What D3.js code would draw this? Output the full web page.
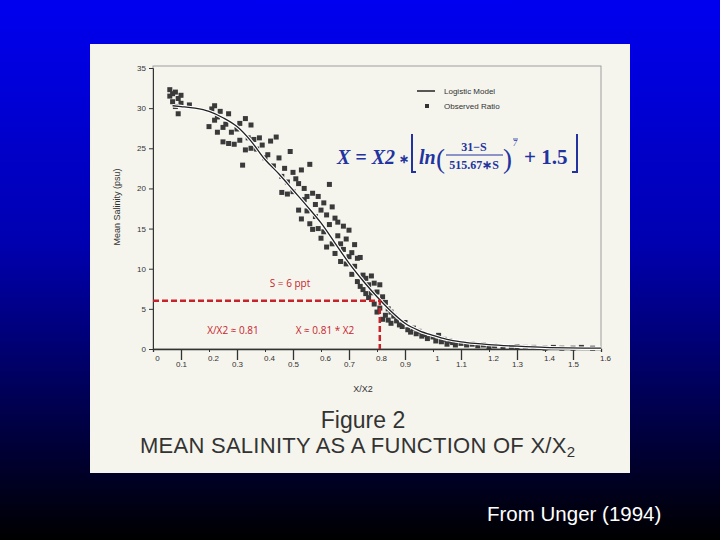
<!DOCTYPE html>
<html>
<head>
<meta charset="utf-8">
<script src="https://cdn.jsdelivr.net/npm/d3@7"></script>
<style>
  body { margin: 0; }
  svg { display: block; }
</style>
</head>
<body>
<div id="chart"></div>
<script>
// logistic model curve [x/x2, salinity]
var modelCurve = [[0.07,30.3],[0.1,30.2],[0.15,30.0],[0.2,29.6],[0.25,28.8],[0.3,27.7],[0.35,25.9],[0.4,23.6],
  [0.45,21.8],[0.5,19.8],[0.55,17.8],[0.6,15.7],[0.65,13.2],[0.7,10.7],[0.75,8.5],[0.8,6.5],[0.85,4.7],
  [0.9,3.2],[0.95,2.3],[1.0,1.7],[1.05,1.2],[1.1,0.9],[1.15,0.7],[1.2,0.55],[1.3,0.35],[1.4,0.2],[1.6,0.1]];

// observed ratio points [x/x2, salinity]
var observed = [
  [0.06,32.3],[0.06,31.5],[0.07,30.8],[0.07,31.8],[0.08,30.2],[0.08,32.0],[0.09,31.2],[0.09,29.3],[0.1,31.6],[0.1,30.6],[0.13,30.4],
  [0.2,27.7],[0.21,29.9],[0.22,30.3],[0.22,28.5],[0.23,28.9],[0.23,27.0],[0.24,29.6],[0.25,27.6],[0.25,25.8],[0.26,28.0],
  [0.27,29.3],[0.27,25.6],[0.28,27.0],[0.29,25.5],[0.3,27.4],[0.31,28.1],[0.31,26.0],[0.32,22.9],[0.33,28.7],[0.33,24.8],
  [0.34,26.3],[0.35,25.0],[0.35,27.9],[0.36,26.1],[0.37,24.9],[0.38,26.3],[0.39,25.4],[0.4,23.8],[0.41,24.2],[0.42,25.9],
  [0.43,22.8],[0.44,26.4],[0.45,23.8],[0.46,21.5],[0.46,19.5],[0.47,22.5],[0.48,20.8],[0.48,19.3],[0.49,24.6],[0.5,22.0],
  [0.5,19.6],[0.51,21.2],[0.52,20.6],[0.52,17.3],[0.53,22.3],[0.53,16.2],[0.54,20.0],[0.54,18.6],[0.55,19.0],[0.55,17.2],
  [0.56,23.0],[0.56,15.6],[0.57,19.4],[0.57,14.9],[0.58,18.0],[0.58,16.5],[0.59,19.0],[0.59,15.0],[0.6,17.3],[0.6,13.8],
  [0.61,18.2],[0.61,14.6],[0.62,16.7],[0.62,12.7],[0.63,20.5],[0.63,15.5],[0.64,17.7],[0.64,13.1],[0.65,16.3],[0.65,11.9],
  [0.66,15.8],[0.66,14.1],[0.67,13.1],[0.67,10.9],[0.68,15.3],[0.68,12.4],[0.69,13.7],[0.69,10.6],[0.7,14.8],[0.7,11.5],
  [0.71,12.0],[0.71,9.3],[0.72,10.3],[0.72,13.0],[0.73,11.3],[0.73,8.4],[0.74,11.4],[0.74,7.8],[0.75,9.2],[0.75,7.4],
  [0.76,8.8],[0.76,6.9],[0.77,8.0],[0.77,6.4],[0.78,9.1],[0.78,7.0],[0.79,8.2],[0.79,5.6],[0.8,7.1],[0.8,4.6],
  [0.81,8.0],[0.81,5.1],[0.82,6.5],[0.82,3.7],[0.83,5.8],[0.83,4.2],[0.84,5.0],[0.84,3.6],[0.85,4.6],[0.85,3.2],
  [0.86,4.1],[0.87,3.5],[0.88,3.0],[0.89,2.8],[0.9,3.3],[0.91,2.4],[0.92,2.1],[0.93,2.6],[0.94,1.9],[0.95,2.2],
  [0.96,1.6],[0.97,1.8],[0.98,1.3],[1.0,1.5],[1.01,1.0],[1.02,1.7],[1.03,0.9],[1.04,1.2],[1.05,0.6],[1.06,1.0],
  [1.07,0.8],[1.08,0.5],[1.1,0.7],[1.12,0.5],[1.14,0.6],[1.16,0.4],[1.18,0.5],[1.2,0.3],[1.22,0.4],[1.25,0.3],
  [1.28,0.2],[1.3,0.3],[1.33,0.2],[1.36,0.2],[1.4,0.1],[1.43,0.2],[1.46,0.1],[1.5,0.1],[1.53,0.2],[1.57,0.1]
];

var yTicks = [0, 5, 10, 15, 20, 25, 30, 35];
var xTicksTop = [0, 0.2, 0.4, 0.6, 0.8, 1, 1.2, 1.4, 1.6];
var xTicksLow = [0.1, 0.3, 0.5, 0.7, 0.9, 1.1, 1.3, 1.5];
var cutSalinity = 6, cutRatio = 0.81;

var svg = d3.select("#chart").append("svg").attr("width", 720).attr("height", 540);

// slide background
var grad = svg.append("defs").append("linearGradient")
  .attr("id", "bg").attr("x1", 0).attr("y1", 0).attr("x2", 0).attr("y2", 1);
grad.append("stop").attr("offset", "0%").attr("stop-color", "#0000f0");
grad.append("stop").attr("offset", "45%").attr("stop-color", "#0000b0");
grad.append("stop").attr("offset", "75%").attr("stop-color", "#000050");
grad.append("stop").attr("offset", "100%").attr("stop-color", "#000000");
svg.append("rect").attr("width", 720).attr("height", 540).attr("fill", "url(#bg)");

// paper panel
svg.append("rect").attr("x", 90).attr("y", 44).attr("width", 540).attr("height", 429).attr("fill", "#f5f5ee");

var x = d3.scaleLinear().domain([0, 1.6]).range([153, 601]);
var y = d3.scaleLinear().domain([0, 35]).range([349, 68]);

// frame
svg.append("rect").attr("x", 153).attr("y", 66).attr("width", 448).attr("height", 283)
  .attr("fill", "none").attr("stroke", "#888").attr("stroke-width", 0.8);

var ink = "#333";
var font = "Liberation Sans, Arial, sans-serif";

// y axis
svg.append("g").attr("transform", "translate(153,0)")
  .call(d3.axisLeft(y).tickValues(yTicks).tickSize(4).tickFormat(d3.format("d")))
  .call(function (g) {
    g.select(".domain").attr("stroke", ink);
    g.selectAll("line").attr("stroke", ink);
    g.selectAll("text").attr("fill", ink).style("font-family", font).style("font-size", "8px");
  });

// x axis, two label rows
svg.append("g").attr("transform", "translate(0,349)")
  .call(d3.axisBottom(x).tickValues(xTicksTop).tickSize(3).tickFormat(d3.format("")))
  .call(function (g) {
    g.select(".domain").attr("stroke", ink).attr("stroke-width", 1.3);
    g.selectAll("line").attr("stroke", ink);
    g.selectAll("text").attr("fill", ink).attr("dx", 4).style("font-family", font).style("font-size", "8px");
  });
svg.append("g").attr("transform", "translate(0,349)")
  .call(d3.axisBottom(x).tickValues(xTicksLow).tickSize(11).tickFormat(d3.format("")))
  .call(function (g) {
    g.select(".domain").remove();
    g.selectAll("line").attr("stroke", ink).attr("stroke-width", 1.3);
    g.selectAll("text").attr("fill", ink).attr("dy", "0.5em").style("font-family", font).style("font-size", "8px");
  });

svg.append("text").attr("x", 363).attr("y", 392).attr("text-anchor", "middle")
  .attr("fill", ink).style("font-family", font).style("font-size", "9px").text("X/X2");
svg.append("text").attr("transform", "translate(120,207) rotate(-90)").attr("text-anchor", "middle")
  .attr("fill", ink).style("font-family", font).style("font-size", "9px").text("Mean Salinity (psu)");

// observed points
svg.append("g").selectAll("rect").data(observed).enter().append("rect")
  .attr("x", function (d) { return x(d[0]) - 2.5; })
  .attr("y", function (d) { return y(d[1]) - 2.5; })
  .attr("width", 5).attr("height", 5).attr("fill", "#3a3a3a");

// model line (white halo + dark line)
var line = d3.line().curve(d3.curveMonotoneX).x(function (d) { return x(d[0]); }).y(function (d) { return y(d[1]); });
svg.append("path").datum(modelCurve).attr("d", line).attr("fill", "none").attr("stroke", "#fff").attr("stroke-width", 3.5);
svg.append("path").datum(modelCurve).attr("d", line).attr("fill", "none").attr("stroke", "#222").attr("stroke-width", 1.3);

// legend
svg.append("line").attr("x1", 417).attr("x2", 435).attr("y1", 91).attr("y2", 91).attr("stroke", "#222").attr("stroke-width", 1.5);
svg.append("rect").attr("x", 425).attr("y", 104).attr("width", 4).attr("height", 4).attr("fill", "#333");
svg.append("text").attr("x", 444).attr("y", 94).attr("fill", ink).style("font-family", font).style("font-size", "8px").text("Logistic Model");
svg.append("text").attr("x", 444).attr("y", 109).attr("fill", ink).style("font-family", font).style("font-size", "8px").text("Observed Ratio");

// red annotations
var red = "#c8232b";
svg.append("path")
  .attr("d", "M" + x(0) + "," + y(cutSalinity) + "H" + x(cutRatio) + "V" + y(0))
  .attr("fill", "none").attr("stroke", red).attr("stroke-width", 2.5).attr("stroke-dasharray", "6,3");
var rf = "Open Sans, sans-serif";
svg.append("text").attr("x", 290).attr("y", 287).attr("text-anchor", "middle").attr("fill", red)
  .style("font-family", rf).style("font-size", "10px").text("S = 6 ppt");
svg.append("text").attr("x", 233).attr("y", 334).attr("text-anchor", "middle").attr("fill", red)
  .style("font-family", rf).style("font-size", "10px").text("X/X2 ≈ 0.81");
svg.append("text").attr("x", 325).attr("y", 334).attr("text-anchor", "middle").attr("fill", red)
  .style("font-family", rf).style("font-size", "10px").text("X ≈ 0.81 * X2");

// formula
var blue = "#2233a0";
var ff = "Liberation Serif, serif";
var fg = svg.append("g").attr("fill", blue).style("font-family", ff).style("font-weight", "bold").style("font-style", "italic");
fg.append("text").attr("x", 337).attr("y", 164).style("font-size", "20px").style("white-space", "pre").text("X = X2");
fg.append("text").attr("x", 399).attr("y", 163).style("font-size", "12px").style("font-style", "normal").text("∗");
fg.append("path").attr("d", "M412,134V172H416").attr("stroke", blue).attr("stroke-width", 2).attr("fill", "none");
fg.append("text").attr("x", 419).attr("y", 164).style("font-size", "20px").text("ln");
fg.append("text").attr("x", 436).attr("y", 168).style("font-size", "27px").style("font-weight", "normal").style("font-style", "normal").text("(");
fg.append("text").attr("x", 474).attr("y", 151).attr("text-anchor", "middle").style("font-size", "12px").style("font-style", "normal").text("31−S");
fg.append("line").attr("x1", 446).attr("x2", 503).attr("y1", 155).attr("y2", 155).attr("stroke", blue).attr("stroke-width", 1);
fg.append("text").attr("x", 474).attr("y", 169).attr("text-anchor", "middle").style("font-size", "12px").style("font-style", "normal").text("515.67∗S");
fg.append("text").attr("x", 503).attr("y", 168).style("font-size", "27px").style("font-weight", "normal").style("font-style", "normal").text(")");
fg.append("text").attr("x", 513).attr("y", 146).style("font-size", "8px").style("font-weight", "normal").text("7");
fg.append("line").attr("x1", 513).attr("x2", 518).attr("y1", 139).attr("y2", 139).attr("stroke", blue).attr("stroke-width", 0.8);
fg.append("text").attr("x", 524).attr("y", 164).style("font-size", "21px").style("font-style", "normal").style("white-space", "pre").text("+ 1.5");
fg.append("path").attr("d", "M572,172H577V134").attr("stroke", blue).attr("stroke-width", 2).attr("fill", "none");

// captions
svg.append("text").attr("x", 363).attr("y", 428).attr("text-anchor", "middle").attr("fill", "#333")
  .style("font-family", font).style("font-size", "23px").text("Figure 2");
svg.append("text").attr("x", 140).attr("y", 453).attr("fill", "#333").attr("textLength", 435)
  .style("font-family", font).style("font-size", "22px")
  .html("MEAN SALINITY AS A FUNCTION OF X/X<tspan font-size='15' dy='4'>2</tspan>");
svg.append("text").attr("x", 487).attr("y", 521).attr("fill", "#fff")
  .style("font-family", font).style("font-size", "20.5px").text("From Unger (1994)");
</script>
</body>
</html>
